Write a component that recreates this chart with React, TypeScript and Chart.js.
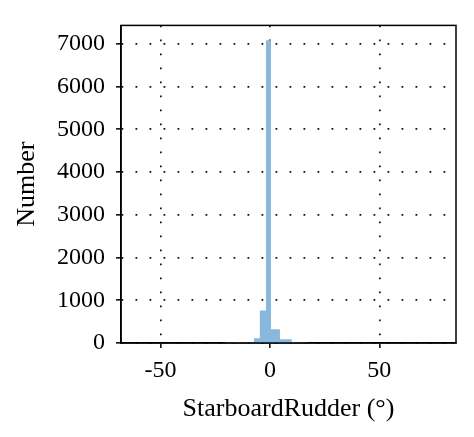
import { useEffect, useRef } from "react";
import { Chart, registerables, type ChartConfiguration, type Plugin } from "chart.js";

Chart.register(...registerables);

// histogram bins (degrees) and counts
const binEdges = [-20.5, -7.3, -4.6, -1.8, 0.5, 4.6, 10, 17];
const binCounts = [20, 110, 760, 7080, 320, 90, 20];

const xTicks = [-50, 0, 50];
const yTicks = [0, 1000, 2000, 3000, 4000, 5000, 6000, 7000];

const X_MIN = -68;
const X_MAX = 85;
const Y_MAX = 7430;

const SERIF = "'Liberation Serif', 'Times New Roman', serif";

// closes the plot box (top and right sides)
const frame: Plugin<"line"> = {
  id: "frame",
  afterDraw(chart) {
    const { ctx, chartArea: a } = chart;
    ctx.save();
    ctx.strokeStyle = "#000";
    ctx.lineWidth = 1.5;
    ctx.strokeRect(a.left, a.top, a.right - a.left, a.bottom - a.top);
    ctx.restore();
  },
};

export default function App() {
  const canvasRef = useRef<HTMLCanvasElement>(null);

  useEffect(() => {
    if (!canvasRef.current) return;

    // each point's y holds from its x up to the next edge
    const points = binCounts.map((c, i) => ({ x: binEdges[i], y: c }));
    points.push({ x: binEdges[binEdges.length - 1], y: 0 });

    const grid = {
      color: "#111",
      lineWidth: 1.7,
      tickLength: 5,
      tickColor: "#000",
      tickWidth: 1.5,
    };
    const border = { color: "#000", width: 1.5, dash: [1.8, 12.2] };

    const cfg: ChartConfiguration<"line", { x: number; y: number }[]> = {
      type: "line",
      data: {
        datasets: [
          {
            data: points,
            stepped: "before",
            fill: "origin",
            backgroundColor: "#8ab8dc",
            borderWidth: 0,
            borderColor: "rgba(0,0,0,0)",
            pointRadius: 0,
          },
        ],
      },
      options: {
        animation: false,
        responsive: true,
        maintainAspectRatio: false,
        layout: { padding: { left: 0, top: 17, right: 18, bottom: 0 } },
        plugins: { legend: { display: false }, tooltip: { enabled: false } },
        scales: {
          x: {
            type: "linear",
            min: X_MIN,
            max: X_MAX,
            z: 1,
            afterBuildTicks: (s) => {
              s.ticks = xTicks.map((value) => ({ value }));
            },
            afterFit: (s) => {
              s.height = 94;
            },
            grid,
            border,
            ticks: {
              color: "#000",
              padding: 8,
              maxRotation: 0,
              font: { family: SERIF, size: 24 },
              callback: (v) => String(v),
            },
            title: {
              display: true,
              text: "StarboardRudder (°)",
              color: "#000",
              font: { family: SERIF, size: 26 },
              padding: { top: 0, bottom: 12 },
            },
          },
          y: {
            type: "linear",
            min: 0,
            max: Y_MAX,
            z: 1,
            afterBuildTicks: (s) => {
              s.ticks = yTicks.map((value) => ({ value }));
            },
            afterFit: (s) => {
              s.width = 121;
            },
            grid,
            border,
            ticks: {
              color: "#000",
              padding: 11,
              font: { family: SERIF, size: 24 },
              callback: (v) => String(v),
            },
            title: {
              display: true,
              text: "Number",
              color: "#000",
              font: { family: SERIF, size: 26 },
              padding: { top: 12, bottom: 0 },
            },
          },
        },
      },
      plugins: [frame],
    };

    const chart = new Chart(canvasRef.current, cfg);
    return () => chart.destroy();
  }, []);

  return (
    <div
      style={{
        position: "absolute",
        left: 0,
        top: 0,
        width: 474,
        height: 437,
        background: "#fff",
      }}
    >
      <canvas ref={canvasRef} />
    </div>
  );
}
